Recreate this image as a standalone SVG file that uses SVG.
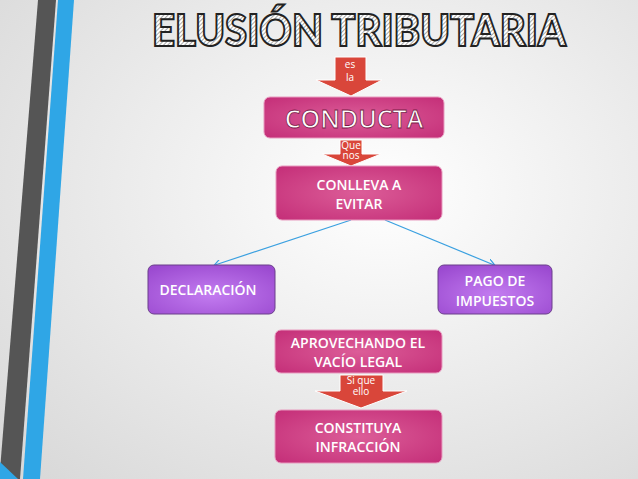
<svg xmlns="http://www.w3.org/2000/svg" width="638" height="479" viewBox="0 0 638 479">
<defs>
<radialGradient id="bg" cx="0.6" cy="0.4" r="0.8"><stop offset="0" stop-color="#ffffff"/><stop offset="1" stop-color="#d9d9d9"/></radialGradient>
<radialGradient id="pink" cx="0.5" cy="0.5" r="0.7"><stop offset="0" stop-color="#dc5d98"/><stop offset="1" stop-color="#c42e78"/></radialGradient>
<radialGradient id="purple" cx="0.5" cy="0.6" r="0.7"><stop offset="0" stop-color="#c37cf0"/><stop offset="1" stop-color="#9b4ad0"/></radialGradient>
<pattern id="hatch" width="3" height="3" patternUnits="userSpaceOnUse" patternTransform="rotate(45)"><rect width="3" height="3" fill="#fff"/><line x1="0" y1="0" x2="0" y2="3" stroke="#555" stroke-width="1"/></pattern>
<marker id="ah" markerWidth="8" markerHeight="8" refX="6" refY="4" orient="auto" markerUnits="userSpaceOnUse"><path d="M0,0 L7,4 L0,8" fill="none" stroke="#3aa0e0" stroke-width="1.2"/></marker>
</defs>
<style>
.t{font-family:"Open Sans","Liberation Sans",sans-serif;fill:#fff;text-anchor:middle;font-weight:600}
.s{font-family:"Open Sans","Liberation Sans",sans-serif;fill:#fff;text-anchor:middle;font-size:10px}
.pb{fill:url(#pink);stroke:#e89bbf;stroke-width:1}
.vb{fill:url(#purple);stroke:#6a3f8a;stroke-width:1}
.arr{fill:#d9463a;stroke:#fff;stroke-width:1}
</style>
<rect width="638" height="479" fill="url(#bg)"/>
<polygon points="38,0 56,0 20,479 0,479 0,470" fill="#555"/>
<polygon points="58,0 74,0 40,479 23,479" fill="#2fa6e6"/>
<polygon points="0,462 18,479 0,479" fill="#2fa6e6"/>
<text x="359" y="46" font-family="Lato, 'Liberation Sans', sans-serif" font-weight="900" font-size="44" text-anchor="middle" fill="url(#hatch)" stroke="#222" stroke-width="2" textLength="414" lengthAdjust="spacingAndGlyphs">ELUSIÓN TRIBUTARIA</text>
<g id="connectors">
<line x1="351" y1="220" x2="215" y2="265" stroke="#3aa0e0" stroke-width="1.2" marker-end="url(#ah)"/>
<line x1="385" y1="220" x2="494" y2="265" stroke="#3aa0e0" stroke-width="1.2" marker-end="url(#ah)"/>
<g id="arrow-es"><polygon class="arr" points="335,57 366,57 366,80 382,80 351,96 316,80 335,80"/><text class="s" x="350" y="68">es</text><text class="s" x="350" y="81">la</text></g>
<g id="arrow-que"><polygon class="arr" points="340,140 362,140 362,154 381,154 351,166 322,154 340,154"/><text class="s" x="351" y="149" font-size="7">Que</text><text class="s" x="351" y="159" font-size="7">nos</text></g>
<g id="arrow-si"><polygon class="arr" points="340,375 383,375 383,391 407,391 361,408 315,391 340,391"/><text class="s" x="361" y="384" font-size="7">Si que</text><text class="s" x="361" y="395" font-size="7">ello</text></g>
</g>
<g id="conducta"><rect class="pb" x="264" y="97" width="180" height="41" rx="6"/><text class="t" x="354" y="128" font-size="25" font-weight="normal" stroke="#7a1c48" stroke-width="0.8">CONDUCTA</text></g>
<g id="conlleva"><rect class="pb" x="276" y="166" width="166" height="54" rx="6"/><text class="t" x="359" y="190" font-size="14">CONLLEVA  A</text><text class="t" x="359" y="209" font-size="14">EVITAR</text></g>
<g id="declaracion"><rect class="vb" x="148" y="265" width="127" height="49" rx="6"/><text class="t" x="208" y="295" font-size="14" fill="#f0e0f8">DECLARACIÓN</text></g>
<g id="pago"><rect class="vb" x="438" y="265" width="114" height="49" rx="6"/><text class="t" x="495" y="286" font-size="14">PAGO DE</text><text class="t" x="495" y="306" font-size="14">IMPUESTOS</text></g>
<g id="aprovechando"><rect class="pb" x="275" y="330" width="167" height="43" rx="6"/><text class="t" x="358" y="348" font-size="14">APROVECHANDO EL</text><text class="t" x="358" y="367" font-size="14">VACÍO LEGAL</text></g>
<g id="constituya"><rect class="pb" x="275" y="410" width="167" height="53" rx="6"/><text class="t" x="358" y="433" font-size="14">CONSTITUYA</text><text class="t" x="358" y="452" font-size="14">INFRACCIÓN</text></g>
</svg>
